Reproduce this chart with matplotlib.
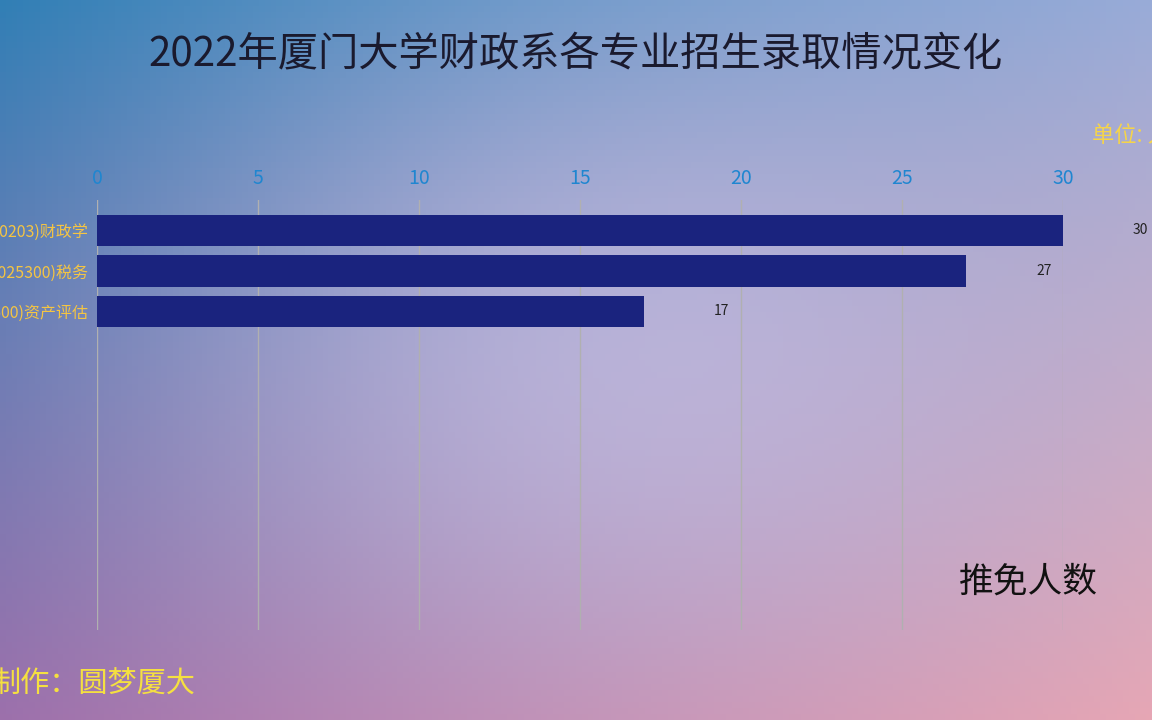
import numpy as np
import matplotlib
matplotlib.use("Agg")
from matplotlib import pyplot as plt

plt.rcParams['font.family'] = ['Noto Sans CJK SC', 'DejaVu Sans']

# data
majors = ["(020203)财政学", "(025300)税务", "(025600)资产评估"]
counts = [30, 27, 17]
ticks = [0, 5, 10, 15, 20, 25, 30]

fig = plt.figure(figsize=(11.52, 7.2), dpi=100)

# background gradient (corners: top-left, top-right, bottom-left, bottom-right)
bg = fig.add_axes([0, 0, 1, 1])
tl = np.array([45, 125, 180]) / 255
tr = np.array([150, 170, 215]) / 255
bl = np.array([155, 110, 170]) / 255
br = np.array([232, 165, 178]) / 255
u = np.linspace(0, 1, 200)[None, :, None]
v = np.linspace(0, 1, 120)[:, None, None]
mid = np.array([200, 192, 228]) / 255
img = (1 - v) * ((1 - u) * tl + u * tr) + v * ((1 - u) * bl + u * br)
# lighter centre
w = np.exp(-(((u - 0.55) / 0.4) ** 2 + ((v - 0.5) / 0.45) ** 2))
img = img * (1 - 0.7 * w) + mid * 0.7 * w
bg.imshow(np.clip(img, 0, 1), aspect='auto', extent=[0, 1, 0, 1])
bg.axis('off')

# main axes: x from 97px to 1063px, y from 200px to 630px
ax = fig.add_axes([97 / 1152, 90 / 720, 966 / 1152, 430 / 720])
ax.patch.set_alpha(0)
y = np.arange(len(majors))
ax.barh(y, counts, height=0.77, color='#1a237e', zorder=3)
ax.set_xlim(0, 30)
ax.set_ylim(9.87, -0.753)
ax.set_xticks(ticks)
ax.xaxis.tick_top()
ax.tick_params(axis='x', length=0, labelsize=14, labelcolor='#1f86d0', pad=8)
ax.set_yticks(y)
ax.set_yticklabels(majors)
ax.tick_params(axis='y', length=0, labelsize=11.5, labelcolor='#f5c542', pad=6)
ax.grid(axis='x', color='#b0b0b0', linewidth=1, zorder=0)
for s in ax.spines.values():
    s.set_visible(False)

for yi, c in zip(y, counts):
    ax.text(c + 2.4, yi, str(c), va='center', ha='center', fontsize=10, color='#222222')

fig.text(0.5, 0.925, "2022年厦门大学财政系各专业招生录取情况变化", ha='center', va='center',
         fontsize=29, color='#1a1a2e')
fig.text(1092 / 1152, 1 - 135 / 720, "单位: 人", ha='left', va='center', fontsize=16, color='#f5d44a')
fig.text(1028 / 1152, 1 - 582 / 720, "推免人数", ha='center', va='center', fontsize=25, color='#111111')
fig.text(-8 / 1152, 1 - 685 / 720, "制作：圆梦厦大", ha='left', va='center', fontsize=21, color='#f5e040')

fig.savefig("out.png", dpi=100)
